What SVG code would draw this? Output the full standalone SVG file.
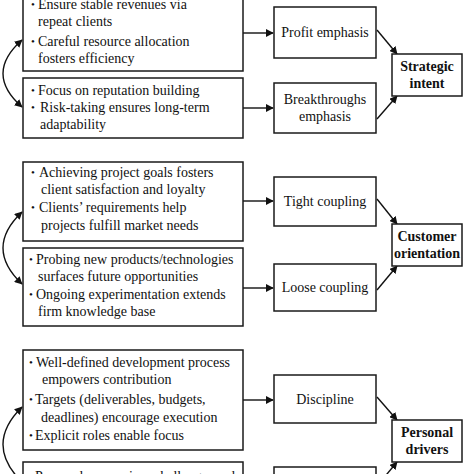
<svg xmlns="http://www.w3.org/2000/svg" width="474" height="474" viewBox="0 0 474 474">
<style>
.box{fill:#fff;stroke:#1a1a1a;stroke-width:1.5}
.t{font-family:"Liberation Serif","Times New Roman",serif;font-size:14px;fill:#111}
.d{font-family:"Liberation Serif","Times New Roman",serif;font-size:11px;fill:#111}
.c{text-anchor:middle}
.b{font-weight:bold}
.ln{fill:none;stroke:#111;stroke-width:1.4}
</style>
<defs>
<marker id="ah" viewBox="0 0 10 10" refX="9" refY="5" markerWidth="8" markerHeight="8" markerUnits="userSpaceOnUse" orient="auto-start-reverse">
<path d="M0,0 L10,5 L0,10 Z" fill="#111"/>
</marker>
</defs>
<rect width="474" height="474" fill="#fff"/>

<g id="connectors">
<line class="ln" x1="243" y1="33" x2="273" y2="33" marker-end="url(#ah)"/>
<line class="ln" x1="243" y1="108" x2="273" y2="108" marker-end="url(#ah)"/>
<line class="ln" x1="377" y1="30" x2="397" y2="54" marker-end="url(#ah)"/>
<line class="ln" x1="377" y1="119" x2="397" y2="96" marker-end="url(#ah)"/>
<path class="ln" d="M22,40 Q-16,73.5 22,107" marker-start="url(#ah)" marker-end="url(#ah)"/>

<line class="ln" x1="243" y1="201" x2="273" y2="201" marker-end="url(#ah)"/>
<line class="ln" x1="243" y1="288" x2="273" y2="288" marker-end="url(#ah)"/>
<line class="ln" x1="377" y1="199" x2="397" y2="224" marker-end="url(#ah)"/>
<line class="ln" x1="377" y1="290" x2="397" y2="266" marker-end="url(#ah)"/>
<path class="ln" d="M22,212 Q-16,248 22,284" marker-start="url(#ah)" marker-end="url(#ah)"/>

<line class="ln" x1="243" y1="400" x2="273" y2="400" marker-end="url(#ah)"/>
<line class="ln" x1="377" y1="397" x2="397" y2="420" marker-end="url(#ah)"/>
<line class="ln" x1="377" y1="486" x2="397" y2="462" marker-end="url(#ah)"/>
<path class="ln" d="M22,407 Q-16,444.5 22,482" marker-start="url(#ah)" marker-end="url(#ah)"/>
</g>

<g id="box-stable">
<rect class="box" x="23" y="-10" width="220" height="81"/>
<text class="d" x="31" y="8">•</text><text class="t" x="38" y="9">Ensure stable revenues via</text>
<text class="t" x="38" y="26">repeat clients</text>
<text class="d" x="31" y="45">•</text><text class="t" x="38" y="46">Careful resource allocation</text>
<text class="t" x="38" y="63">fosters efficiency</text>
</g>
<g id="box-reputation">
<rect class="box" x="23" y="78" width="220" height="60"/>
<text class="d" x="31" y="94">•</text><text class="t" x="38" y="95">Focus on reputation building</text>
<text class="d" x="31" y="111">•</text><text class="t" x="40" y="112">Risk-taking ensures long-term</text>
<text class="t" x="40" y="129">adaptability</text>
</g>
<g id="profit">
<rect class="box" x="274" y="7" width="102" height="51"/>
<text class="t c" x="325" y="37">Profit emphasis</text>
</g>
<g id="breakthroughs">
<rect class="box" x="274" y="83" width="102" height="50"/>
<text class="t c" x="325" y="104">Breakthroughs</text>
<text class="t c" x="325" y="121">emphasis</text>
</g>
<g id="strategic">
<rect class="box" x="392" y="54" width="70" height="42"/>
<text class="t c b" x="427" y="71">Strategic</text>
<text class="t c b" x="427" y="88">intent</text>
</g>

<g id="box-goals">
<rect class="box" x="23" y="162" width="220" height="79"/>
<text class="d" x="31" y="176">•</text><text class="t" x="39" y="177">Achieving project goals fosters</text>
<text class="t" x="41" y="194">client satisfaction and loyalty</text>
<text class="d" x="31" y="211">•</text><text class="t" x="39" y="212">Clients’ requirements help</text>
<text class="t" x="41" y="230">projects fulfill market needs</text>
</g>
<g id="box-probing">
<rect class="box" x="23" y="248" width="220" height="78"/>
<text class="d" x="29" y="263">•</text><text class="t" x="36" y="264">Probing new products/technologies</text>
<text class="t" x="38" y="281">surfaces future opportunities</text>
<text class="d" x="29" y="298">•</text><text class="t" x="36" y="299">Ongoing experimentation extends</text>
<text class="t" x="38" y="316">firm knowledge base</text>
</g>
<g id="tight">
<rect class="box" x="274" y="177" width="102" height="49"/>
<text class="t c" x="325" y="206">Tight coupling</text>
</g>
<g id="loose">
<rect class="box" x="274" y="264" width="102" height="47"/>
<text class="t c" x="325" y="292">Loose coupling</text>
</g>
<g id="customer">
<rect class="box" x="392" y="224" width="70" height="42"/>
<text class="t c b" x="427" y="241">Customer</text>
<text class="t c b" x="427" y="258">orientation</text>
</g>

<g id="box-process">
<rect class="box" x="23" y="350" width="220" height="100"/>
<text class="d" x="29" y="366">•</text><text class="t" x="36" y="367">Well-defined development process</text>
<text class="t" x="42" y="384">empowers contribution</text>
<text class="d" x="29" y="403">•</text><text class="t" x="35" y="404">Targets (deliverables, budgets,</text>
<text class="t" x="41" y="422">deadlines) encourage execution</text>
<text class="d" x="29" y="439">•</text><text class="t" x="35" y="440">Explicit roles enable focus</text>
</g>
<g id="box-personal">
<rect class="box" x="23" y="462" width="220" height="40"/>
<text class="d" x="29" y="480">•</text><text class="t" x="35" y="481" textLength="200" lengthAdjust="spacing">Personal expression, challenge, and</text>
</g>
<g id="discipline">
<rect class="box" x="274" y="375" width="102" height="48"/>
<text class="t c" x="325" y="404">Discipline</text>
</g>
<g id="personal-drivers">
<rect class="box" x="392" y="420" width="70" height="42"/>
<text class="t c b" x="427" y="437">Personal</text>
<text class="t c b" x="427" y="454">drivers</text>
</g>
<g id="bottom-node">
<rect class="box" x="274" y="467" width="102" height="40"/>
</g>
</svg>
